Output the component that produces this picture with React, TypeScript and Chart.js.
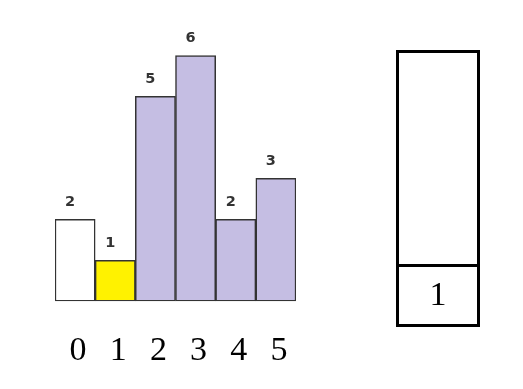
import React, { useEffect, useRef } from "react";
import { Chart, registerables } from "chart.js";

Chart.register(...registerables);

const categories = ["0", "1", "2", "3", "4", "5"];
const barValues = [2, 1, 5, 6, 2, 3];
const barColors = ["#ffffff", "#fff200", "#c5bee3", "#c5bee3", "#c5bee3", "#c5bee3"];
const stackItems = [1];
const stackCapacity = 4.57;

const valueLabelPlugin = {
  id: "valueLabels",
  afterDatasetsDraw(chart: any) {
    const ctx = chart.ctx;
    const meta = chart.getDatasetMeta(0);
    ctx.save();
    ctx.font = "bold 14.5px 'DejaVu Sans'";
    ctx.fillStyle = "#333333";
    ctx.textAlign = "center";
    ctx.textBaseline = "middle";
    meta.data.forEach((bar: any, i: number) => {
      ctx.fillText(String(barValues[i]), bar.x - 5, bar.y - 17);
    });
    ctx.restore();
  },
};

const stackPlugin = {
  id: "stackBox",
  afterDatasetsDraw(chart: any) {
    const ctx = chart.ctx;
    const a = chart.chartArea;
    ctx.save();
    ctx.strokeStyle = "#000000";
    ctx.lineWidth = 3;
    ctx.strokeRect(a.left, a.top, a.right - a.left, a.bottom - a.top);
    const meta = chart.getDatasetMeta(0);
    ctx.font = "34px 'Liberation Serif'";
    ctx.fillStyle = "#000000";
    ctx.textAlign = "center";
    ctx.textBaseline = "middle";
    meta.data.forEach((bar: any, i: number) => {
      ctx.fillText(String(stackItems[i]), bar.x, (bar.y + bar.base) / 2 + 1);
    });
    ctx.restore();
  },
};

export default function App() {
  const barRef = useRef<HTMLCanvasElement>(null);
  const stackRef = useRef<HTMLCanvasElement>(null);

  useEffect(() => {
    const c1 = new Chart(barRef.current!, {
      type: "bar",
      data: {
        labels: categories,
        datasets: [
          {
            data: barValues,
            backgroundColor: barColors,
            borderColor: "#333333",
            borderWidth: 1.5,
            borderSkipped: false,
            categoryPercentage: 1,
            barPercentage: 1,
          },
        ],
      },
      options: {
        animation: false,
        responsive: false,
        maintainAspectRatio: false,
        layout: { padding: { left: 55, right: 34, top: 14.5, bottom: 0 } },
        plugins: { legend: { display: false }, tooltip: { enabled: false } },
        scales: {
          x: {
            grid: { display: false, drawTicks: false },
            border: { display: false },
            ticks: {
              color: "#000000",
              font: { family: "'Liberation Serif'", size: 34 },
              padding: 29,
              labelOffset: 3,
            },
          },
          y: { display: false, min: 0, max: 7 },
        },
      },
      plugins: [valueLabelPlugin],
    });

    const c2 = new Chart(stackRef.current!, {
      type: "bar",
      data: {
        labels: [""],
        datasets: [
          {
            data: stackItems,
            backgroundColor: "#ffffff",
            borderColor: "#000000",
            borderWidth: 0,
            categoryPercentage: 1,
            barPercentage: 1,
          },
        ],
      },
      options: {
        animation: false,
        responsive: false,
        maintainAspectRatio: false,
        layout: { padding: { left: 7.5, right: 11.5, top: 11.5, bottom: 14.5 } },
        plugins: { legend: { display: false }, tooltip: { enabled: false } },
        scales: {
          x: { display: false },
          y: { display: false, min: 0, max: stackCapacity },
        },
      },
      plugins: [
        stackPlugin,
        {
          id: "cellTop",
          afterDatasetsDraw(chart: any) {
            const ctx = chart.ctx;
            const a = chart.chartArea;
            const meta = chart.getDatasetMeta(0);
            ctx.save();
            ctx.strokeStyle = "#000000";
            ctx.lineWidth = 3;
            meta.data.forEach((bar: any) => {
              ctx.beginPath();
              ctx.moveTo(a.left, bar.y);
              ctx.lineTo(a.right, bar.y);
              ctx.stroke();
            });
            ctx.restore();
          },
        },
      ],
    });

    return () => {
      c1.destroy();
      c2.destroy();
    };
  }, []);

  return (
    <div style={{ position: "fixed", left: 0, top: 0, width: 523, height: 389, overflow: "hidden", background: "#ffffff" }}>
      <canvas
        ref={barRef}
        width={330}
        height={400}
        style={{ position: "absolute", left: 0, top: 0, width: 330, height: 400 }}
      />
      <canvas
        ref={stackRef}
        width={100}
        height={300}
        style={{ position: "absolute", left: 390, top: 40, width: 100, height: 300 }}
      />
    </div>
  );
}
